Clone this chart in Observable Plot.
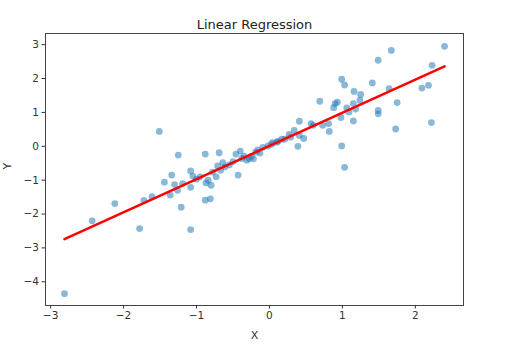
<!DOCTYPE html>
<html>
<head>
<meta charset="utf-8">
<script src="https://cdn.jsdelivr.net/npm/d3@7"></script>
<script src="https://cdn.jsdelivr.net/npm/@observablehq/plot@0.6"></script>
<style>
  html, body { margin: 0; padding: 0; background: #fff; }
  svg { display: block; }
</style>
</head>
<body>
<div id="chart"></div>
<script>
const title = "Linear Regression";
const xLabel = "X";
const yLabel = "Y";
const xTicks = [-3, -2, -1, 0, 1, 2];
const yTicks = [-4, -3, -2, -1, 0, 1, 2, 3];

const xs = [-2.81, -2.43, -2.12, -1.78, -1.72, -1.61, -1.51, -1.44, -1.36, -1.34,
  -1.30, -1.26, -1.25, -1.21, -1.19, -1.08, -1.08, -1.08, -1.05, -0.95,
  -0.88, -0.88, -0.87, -0.84, -0.80, -0.81, -0.78, -0.73, -0.69, -0.71,
  -0.67, -0.64, -0.61, -0.46, -0.43, -0.40, -0.38, -0.35, -0.31, -0.28,
  -0.22, -0.19, -0.16, -0.13, -0.09, -0.02, 0.03, 0.04, 0.17, 0.21,
  0.27, 0.29, 0.34, 0.39, 0.41, 0.41, 0.47, 0.57, 0.69, 0.73,
  0.81, 0.82, 0.88, 0.90, 0.93, 0.99, 0.99, 0.98, 1.03, 1.03,
  1.06, 1.09, 1.15, 1.16, 1.15, 1.18, 1.25, 1.24, 1.41, 1.49,
  1.49, 1.49, 1.64, 1.67, 1.73, 1.75, 2.09, 2.18, 2.22, 2.23,
  2.40, -0.55, -0.50, 0.10, -0.25, 0.60, -1.00, 0.12];
const ys = [-4.35, -2.20, -1.69, -2.43, -1.60, -1.49, 0.44, -1.06, -1.44, -0.85,
  -1.13, -1.30, -0.26, -1.80, -1.10, -0.73, -1.21, -2.46, -0.88, -0.90,
  -0.23, -1.59, -1.08, -1.00, -1.15, -1.55, -0.76, -0.90, -0.19, -0.58,
  -0.71, -0.48, -0.61, -0.23, -0.85, -0.14, -0.36, -0.29, -0.41, -0.36,
  -0.37, -0.17, -0.11, -0.20, -0.03, 0.01, 0.06, 0.11, 0.21, 0.21,
  0.35, 0.27, 0.47, 0.00, 0.74, 0.32, 0.23, 0.67, 1.33, 0.62,
  0.67, 0.44, 1.14, 1.26, 1.30, 1.98, 0.01, 0.85, 1.81, -0.62,
  1.13, 1.01, 1.26, 1.62, 0.75, 1.10, 1.53, 1.36, 1.87, 2.54,
  1.06, 0.96, 1.70, 2.83, 0.51, 1.29, 1.72, 1.80, 0.70, 2.39,
  2.95, -0.55, -0.45, 0.12, -0.30, 0.62, -0.97, 0.15];

const lineX = [-2.81, 2.40];
const lineY = [-2.74, 2.36];

const points = xs.map((x, i) => ({x, y: ys[i]}));
const fitLine = lineX.map((x, i) => ({x, y: lineY[i]}));
const fmt = d => String(d).replace("-", "\u2212");

const chart = Plot.plot({
  width: 524,
  height: 360,
  marginLeft: 45,
  marginRight: 61,
  marginTop: 33,
  marginBottom: 55,
  style: {fontFamily: "DejaVu Sans", fontSize: "10px", color: "#333", background: "#fff"},
  x: {domain: [-3.07, 2.66], ticks: xTicks, tickFormat: fmt, tickSize: 3.5, tickPadding: 3, label: null},
  y: {domain: [-4.70, 3.33], ticks: yTicks, tickFormat: fmt, tickSize: 3.5, tickPadding: 3, label: null},
  marks: [
    Plot.dot(points, {x: "x", y: "y", r: 3.4, fill: "#1f77b4", fillOpacity: 0.52, stroke: "none"}),
    Plot.line(fitLine, {x: "x", y: "y", stroke: "#ff0000", strokeWidth: 2.5}),
    Plot.frame({stroke: "#444", strokeWidth: 1}),
    Plot.axisX({ticks: xTicks, tickFormat: fmt, tickSize: 3.5, tickPadding: 3, label: null, fontSize: 10.5}),
    Plot.axisY({ticks: yTicks, tickFormat: fmt, tickSize: 3.5, tickPadding: 3, label: null, fontSize: 10.5}),
    Plot.text([title], {frameAnchor: "top", dy: -14, fontSize: 13, fill: "#222"}),
    Plot.text([xLabel], {frameAnchor: "bottom", dy: 33, fontSize: 11, fill: "#333"}),
    Plot.text([yLabel], {frameAnchor: "left", dx: -38, rotate: -90, fontSize: 11, fill: "#333"})
  ]
});
document.getElementById("chart").appendChild(chart);
</script>
</body>
</html>
